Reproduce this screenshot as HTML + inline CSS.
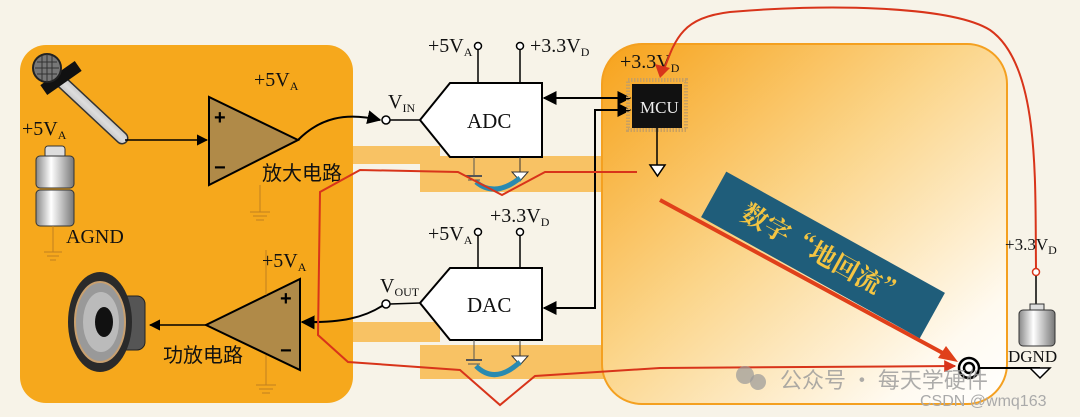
<!DOCTYPE html>
<html><head><meta charset="utf-8"><style>
html,body{margin:0;padding:0;background:#f7f3e8;}
svg{display:block;font-family:"Liberation Serif","Noto Serif CJK SC",serif;}
.s{font-family:"Liberation Serif",serif;font-size:20px;fill:#111;}
.sub{font-size:12px;}
.cn{font-family:"Noto Sans CJK SC","WenQuanYi Zen Hei",sans-serif;font-size:20px;fill:#111;}
</style></head><body>
<svg width="1080" height="417" viewBox="0 0 1080 417" xmlns="http://www.w3.org/2000/svg">
<defs>
<linearGradient id="rg" x1="0" y1="0" x2="1" y2="1">
<stop offset="0" stop-color="#f7a21a"/><stop offset="0.45" stop-color="#fbd58a"/><stop offset="0.85" stop-color="#fffaf0"/><stop offset="1" stop-color="#ffffff"/>
</linearGradient>
<linearGradient id="cyl" x1="0" x2="1"><stop offset="0" stop-color="#888"/><stop offset="0.4" stop-color="#fff"/><stop offset="1" stop-color="#777"/></linearGradient>
<linearGradient id="mic" x1="0" x2="1" y1="1" y2="0"><stop offset="0" stop-color="#444"/><stop offset="0.5" stop-color="#ddd"/><stop offset="1" stop-color="#555"/></linearGradient>
<marker id="ab" viewBox="0 0 10 10" refX="9" refY="5" markerWidth="7" markerHeight="7" orient="auto-start-reverse"><path d="M0,0L10,5L0,10z" fill="#000"/></marker>
<marker id="ar" viewBox="0 0 10 10" refX="9" refY="5" markerWidth="6" markerHeight="6" orient="auto"><path d="M0,0L10,5L0,10z" fill="#d8341a"/></marker>
</defs>
<rect width="1080" height="417" fill="#f7f3e8"/>
<rect x="340" y="146" width="100" height="18" fill="#f8c264"/>
<rect x="420" y="156" width="200" height="36" fill="#f8c264"/>
<rect x="340" y="322" width="100" height="20" fill="#f8c264"/>
<rect x="420" y="345" width="200" height="34" fill="#f8c264"/>
<rect x="20" y="45" width="333" height="358" rx="26" fill="#f6a81c"/>
<rect x="602" y="44" width="405" height="360" rx="40" fill="url(#rg)" stroke="#f4a020" stroke-width="2"/>

<!-- mic -->
<line x1="62" y1="82" x2="122" y2="138" stroke="#333" stroke-width="13" stroke-linecap="round"/>
<line x1="62" y1="82" x2="122" y2="138" stroke="url(#mic)" stroke-width="10" stroke-linecap="round"/>
<rect x="40" y="72" width="42" height="12" fill="#111" transform="rotate(-35 61 78)"/>
<circle cx="47" cy="68" r="14" fill="#777" stroke="#222" stroke-width="2"/>
<path d="M37,62 H57 M35,68 H59 M37,74 H57 M42,56 V80 M47,54 V82 M52,56 V80" stroke="#333" stroke-width="1"/>
<line x1="125" y1="140" x2="207" y2="140" stroke="#000" stroke-width="1.6" marker-end="url(#ab)"/>
<!-- battery -->
<rect x="45" y="146" width="20" height="12" rx="3" fill="#ddd" stroke="#333"/>
<rect x="36" y="156" width="38" height="32" rx="4" fill="url(#cyl)" stroke="#333"/>
<rect x="36" y="190" width="38" height="36" rx="4" fill="url(#cyl)" stroke="#333"/>
<line x1="53" y1="226" x2="53" y2="252" stroke="#c08020"/>
<line x1="44" y1="252" x2="62" y2="252" stroke="#c08020"/><line x1="47" y1="256" x2="59" y2="256" stroke="#c08020"/><line x1="50" y1="260" x2="56" y2="260" stroke="#c08020"/>
<text x="22" y="135" class="s">+5V<tspan class="sub" dy="4">A</tspan></text>
<text x="66" y="243" class="s">AGND</text>

<!-- amp1 -->
<polygon points="209,97 209,185 298,140" fill="#b08a48" stroke="#000" stroke-width="2"/>
<text x="214" y="124" style="font:bold 20px 'Liberation Sans',sans-serif">+</text>
<text x="214" y="174" style="font:bold 20px 'Liberation Sans',sans-serif">−</text>
<text x="254" y="86" class="s">+5V<tspan class="sub" dy="4">A</tspan></text>
<text x="262" y="180" class="cn">放大电路</text>
<line x1="260" y1="185" x2="260" y2="212" stroke="#c08020"/>
<line x1="250" y1="212" x2="270" y2="212" stroke="#c08020"/><line x1="253" y1="216" x2="267" y2="216" stroke="#c08020"/><line x1="256" y1="220" x2="264" y2="220" stroke="#c08020"/>
<path d="M298,140 C320,118 345,112 380,120" fill="none" stroke="#000" stroke-width="2" marker-end="url(#ab)"/>

<!-- amp2 -->
<polygon points="300,279 300,370 206,325" fill="#b08a48" stroke="#000" stroke-width="2"/>
<text x="280" y="305" style="font:bold 20px 'Liberation Sans',sans-serif">+</text>
<text x="280" y="357" style="font:bold 20px 'Liberation Sans',sans-serif">−</text>
<line x1="266" y1="250" x2="266" y2="295" stroke="#c08020"/>
<line x1="266" y1="355" x2="266" y2="385" stroke="#c08020"/>
<line x1="256" y1="385" x2="276" y2="385" stroke="#c08020"/><line x1="259" y1="389" x2="273" y2="389" stroke="#c08020"/><line x1="262" y1="393" x2="270" y2="393" stroke="#c08020"/>
<text x="262" y="267" class="s">+5V<tspan class="sub" dy="4">A</tspan></text>
<text x="163" y="362" class="cn">功放电路</text>
<line x1="206" y1="325" x2="150" y2="325" stroke="#000" stroke-width="1.6" marker-end="url(#ab)"/>
<path d="M385,304 C365,318 340,323 302,322" fill="none" stroke="#000" stroke-width="2" marker-end="url(#ab)"/>
<!-- speaker -->
<rect x="112" y="296" width="33" height="54" rx="8" fill="#555" stroke="#222"/>
<ellipse cx="100" cy="322" rx="32" ry="50" fill="#2a2a2a"/>
<ellipse cx="100" cy="322" rx="25" ry="40" fill="#999" stroke="#c8a070" stroke-width="2"/>
<ellipse cx="101" cy="322" rx="18" ry="30" fill="#bbb"/>
<ellipse cx="104" cy="322" rx="9" ry="15" fill="#111"/>

<!-- ADC -->
<polygon points="420,120 450,83 542,83 542,157 450,157" fill="#fff" stroke="#000" stroke-width="2"/>
<text x="467" y="128" class="s" style="font-size:21px">ADC</text>
<circle cx="386" cy="120" r="4" fill="#fff" stroke="#000" stroke-width="1.5"/>
<line x1="390" y1="120" x2="420" y2="120" stroke="#000" stroke-width="1.5"/>
<text x="388" y="108" class="s">V<tspan class="sub" dy="4">IN</tspan></text>
<line x1="478" y1="50" x2="478" y2="83" stroke="#000" stroke-width="1.5"/><circle cx="478" cy="46" r="3.5" fill="#fff" stroke="#000" stroke-width="1.5"/>
<line x1="520" y1="50" x2="520" y2="83" stroke="#000" stroke-width="1.5"/><circle cx="520" cy="46" r="3.5" fill="#fff" stroke="#000" stroke-width="1.5"/>
<text x="428" y="52" class="s">+5V<tspan class="sub" dy="4">A</tspan></text>
<text x="530" y="52" class="s">+3.3V<tspan class="sub" dy="4">D</tspan></text>
<line x1="474" y1="157" x2="474" y2="176" stroke="#555"/><line x1="466" y1="176" x2="482" y2="176" stroke="#555" stroke-width="2"/><line x1="468" y1="180" x2="480" y2="180" stroke="#555"/>
<line x1="520" y1="157" x2="520" y2="172" stroke="#333"/><polygon points="512,172 528,172 520,181" fill="#fff" stroke="#333"/>
<path d="M476,182 Q495,198 520,178" fill="none" stroke="#2a8ab0" stroke-width="5"/>

<!-- DAC -->
<polygon points="420,303 450,268 542,268 542,340 450,340" fill="#fff" stroke="#000" stroke-width="2"/>
<text x="467" y="312" class="s" style="font-size:21px">DAC</text>
<circle cx="386" cy="304" r="4" fill="#fff" stroke="#000" stroke-width="1.5"/>
<line x1="390" y1="304" x2="420" y2="303" stroke="#000" stroke-width="1.5"/>
<text x="380" y="292" class="s">V<tspan class="sub" dy="4">OUT</tspan></text>
<line x1="478" y1="236" x2="478" y2="268" stroke="#000" stroke-width="1.5"/><circle cx="478" cy="232" r="3.5" fill="#fff" stroke="#000" stroke-width="1.5"/>
<line x1="520" y1="236" x2="520" y2="268" stroke="#000" stroke-width="1.5"/><circle cx="520" cy="232" r="3.5" fill="#fff" stroke="#000" stroke-width="1.5"/>
<text x="428" y="240" class="s">+5V<tspan class="sub" dy="4">A</tspan></text>
<text x="490" y="222" class="s">+3.3V<tspan class="sub" dy="4">D</tspan></text>
<line x1="474" y1="340" x2="474" y2="360" stroke="#555"/><line x1="466" y1="360" x2="482" y2="360" stroke="#555" stroke-width="2"/><line x1="468" y1="364" x2="480" y2="364" stroke="#555"/>
<line x1="520" y1="340" x2="520" y2="356" stroke="#333"/><polygon points="512,356 528,356 520,365" fill="#fff" stroke="#333"/>
<path d="M476,366 Q495,385 520,362" fill="none" stroke="#2a8ab0" stroke-width="5"/>

<line x1="544" y1="98" x2="630" y2="98" stroke="#000" stroke-width="2" marker-start="url(#ab)" marker-end="url(#ab)"/>
<polyline points="544,308 595,308 595,110 630,110" fill="none" stroke="#000" stroke-width="2" marker-start="url(#ab)" marker-end="url(#ab)"/>

<!-- MCU -->
<rect x="628" y="80" width="58" height="50" fill="none" stroke="#c9a060" stroke-width="4" stroke-dasharray="1.5 1.5"/>
<rect x="632" y="84" width="50" height="44" fill="#111"/>
<text x="640" y="113" style="font:17px 'Liberation Serif',serif;fill:#eee">MCU</text>
<text x="620" y="68" class="s">+3.3V<tspan class="sub" dy="4">D</tspan></text>
<line x1="657" y1="128" x2="657" y2="165" stroke="#000" stroke-width="1.5"/>
<polygon points="650,165 665,165 657.5,176" fill="#fff" stroke="#000" stroke-width="1.5"/>

<path d="M662,75 C675,40 680,18 730,12 C820,4 950,5 990,30 C1040,65 1035,180 1036,268" fill="none" stroke="#d8341a" stroke-width="2"/>
<polygon points="660,78 655,64 670,68" fill="#d8341a"/>
<polyline points="637,172 545,172 502,195 458,172 360,170 320,192 318,335 348,362 460,370 500,405 535,376 660,368 955,366" fill="none" stroke="#d8341a" stroke-width="2" marker-end="url(#ar)"/>
<line x1="660" y1="200" x2="952" y2="358" stroke="#e0401a" stroke-width="4"/>
<polygon points="958,362 938,358 946,346" fill="#e0401a"/>

<g transform="translate(823,255) rotate(29)">
<rect x="-125" y="-26" width="250" height="52" fill="#1f5d7a"/>
<text x="0" y="9" text-anchor="middle" style="font:bold 26px 'Noto Serif CJK SC','Noto Sans CJK SC',serif;fill:#f4c542">数字“地回流”</text>
</g>

<circle cx="969" cy="368" r="10" fill="#fff" stroke="#000" stroke-width="2.5"/>
<circle cx="969" cy="368" r="5" fill="#fff" stroke="#000" stroke-width="2.5"/>
<line x1="979" y1="368" x2="1040" y2="368" stroke="#000" stroke-width="2"/>
<polygon points="1030,368 1050,368 1040,378" fill="#fff" stroke="#000" stroke-width="1.5"/>
<text x="1005" y="250" class="s" style="font-size:17px">+3.3V<tspan class="sub" dy="4">D</tspan></text>
<circle cx="1036" cy="272" r="3.5" fill="#fff" stroke="#d8341a" stroke-width="1.5"/>
<line x1="1036" y1="276" x2="1036" y2="305" stroke="#000" stroke-width="1.5"/>
<rect x="1030" y="304" width="14" height="8" fill="#ddd" stroke="#333"/>
<rect x="1019" y="310" width="36" height="36" rx="4" fill="url(#cyl)" stroke="#333"/>
<text x="1008" y="362" class="s" style="font-size:17px">DGND</text>

<text x="780" y="388" style="font:22px 'Noto Sans CJK SC',sans-serif;fill:#999;opacity:0.8">公众号 · 每天学硬件</text>
<circle cx="745" cy="375" r="9" fill="#999" opacity="0.7"/><circle cx="758" cy="382" r="8" fill="#999" opacity="0.7"/>
<text x="920" y="406" style="font:16px 'Liberation Sans',sans-serif;fill:#aaa">CSDN @wmq163</text>
</svg>
</body></html>
